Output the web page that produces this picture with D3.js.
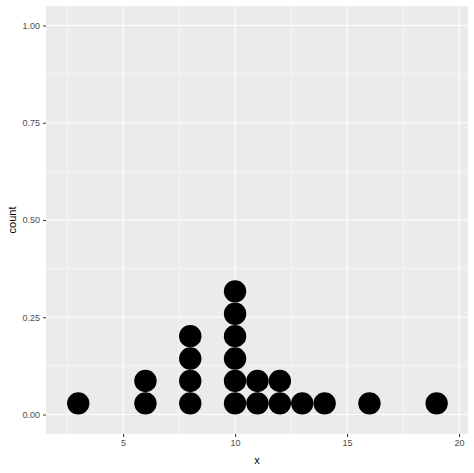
<!DOCTYPE html>
<html><head><meta charset="utf-8">
<script src="https://cdn.jsdelivr.net/npm/d3@7"></script>
<style>body{margin:0;background:#fff}text{font-family:"Liberation Sans",Arial,sans-serif}</style>
</head><body>
<div id="chart"></div>
<script>
const xValues = [3, 6, 8, 10, 11, 12, 13, 14, 16, 19];
const counts = [1, 2, 4, 6, 2, 2, 1, 1, 1, 1];
const xTicks = [5, 10, 15, 20];
const yTicks = [0, 0.25, 0.5, 0.75, 1];

const W = 474, H = 473;
const panel = { left: 46, right: 468, top: 6, bottom: 434 };

const svg = d3.select('#chart').append('svg').attr('width', W).attr('height', H);

const x = d3.scaleLinear().domain([1.56, 20.4]).range([panel.left, panel.right]);
const y = d3.scaleLinear().domain([-0.05, 1.05]).range([panel.bottom, panel.top]);

svg.append('rect').attr('x', panel.left).attr('y', panel.top)
  .attr('width', panel.right - panel.left).attr('height', panel.bottom - panel.top)
  .attr('fill', '#EBEBEB');

const g = svg.append('g');
// minor grid
const xMinor = [2.5, 7.5, 12.5, 17.5];
const yMinor = [0.125, 0.375, 0.625, 0.875];
g.selectAll('.xmin').data(xMinor).enter().append('line')
  .attr('x1', d => x(d)).attr('x2', d => x(d)).attr('y1', panel.top).attr('y2', panel.bottom)
  .attr('stroke', '#fff').attr('stroke-width', 0.5);
g.selectAll('.ymin').data(yMinor).enter().append('line')
  .attr('y1', d => y(d)).attr('y2', d => y(d)).attr('x1', panel.left).attr('x2', panel.right)
  .attr('stroke', '#fff').attr('stroke-width', 0.5);
g.selectAll('.xmaj').data(xTicks).enter().append('line')
  .attr('x1', d => x(d)).attr('x2', d => x(d)).attr('y1', panel.top).attr('y2', panel.bottom)
  .attr('stroke', '#fff').attr('stroke-width', 1.1);
g.selectAll('.ymaj').data(yTicks).enter().append('line')
  .attr('y1', d => y(d)).attr('y2', d => y(d)).attr('x1', panel.left).attr('x2', panel.right)
  .attr('stroke', '#fff').attr('stroke-width', 1.1);

// dots
const r = (x(1) - x(0)) / 2;
const dots = [];
xValues.forEach((v, i) => { for (let k = 0; k < counts[i]; k++) dots.push({ x: v, k }); });
svg.selectAll('circle').data(dots).enter().append('circle')
  .attr('cx', d => x(d.x)).attr('cy', d => y(0) - r - d.k * 2 * r).attr('r', r)
  .attr('fill', '#000');

// axes
const xAxis = svg.append('g').attr('transform', `translate(0,${panel.bottom})`)
  .call(d3.axisBottom(x).tickValues(xTicks).tickSize(3).tickPadding(3).tickFormat(d3.format('d')));
const yAxis = svg.append('g').attr('transform', `translate(${panel.left},0)`)
  .call(d3.axisLeft(y).tickValues(yTicks).tickSize(3).tickPadding(3).tickFormat(d3.format('.2f')));
[xAxis, yAxis].forEach(a => {
  a.select('.domain').remove();
  a.selectAll('line').attr('stroke', '#333');
  a.selectAll('text').attr('fill', '#4D4D4D').style('font-size', '9px');
});

svg.append('text').attr('x', (panel.left + panel.right) / 2).attr('y', 464)
  .attr('text-anchor', 'middle').style('font-size', '11px').text('x');
svg.append('text').attr('transform', `translate(16,${(panel.top + panel.bottom) / 2}) rotate(-90)`)
  .attr('text-anchor', 'middle').style('font-size', '11px').text('count');
</script>
</body></html>
